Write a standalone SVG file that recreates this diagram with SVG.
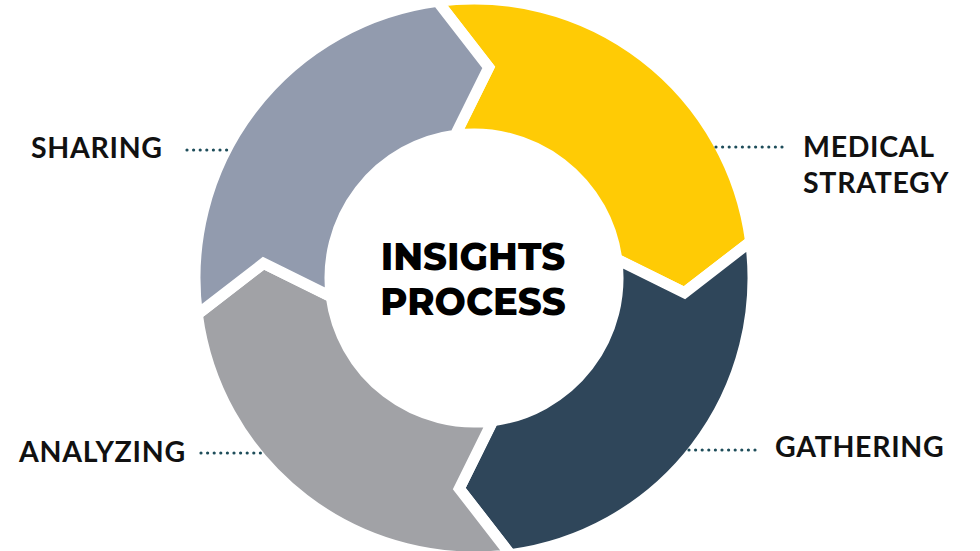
<svg xmlns="http://www.w3.org/2000/svg" width="980" height="551" viewBox="0 0 980 551">
<style>
.seg{stroke:#ffffff;stroke-width:11;stroke-linejoin:miter}
.lbl{font-family:Lato,"Liberation Sans",sans-serif;font-weight:700;font-size:28.5px;letter-spacing:0.7px;fill:#111111}
.ctr{font-family:Montserrat,Inter,"Liberation Sans",sans-serif;font-weight:800;font-size:37px;fill:#000000;text-anchor:middle}
.dot{stroke:#1e4d5a;stroke-width:3.2;stroke-linecap:round;stroke-dasharray:0 6.6;fill:none}
</style>
<rect width="980" height="551" fill="#ffffff"/>
<g id="medical-strategy">
<path class="seg" fill="#ffcb05" d="M437.58 1.39 A279 279 0 0 1 750.61 241.58 L684.49 292.72 L616.77 259.20 A144 144 0 0 0 455.20 135.23 L488.72 67.51 Z"/>
<text class="lbl" x="803" y="157">MEDICAL</text>
<text class="lbl" x="803" y="193">STRATEGY</text>
</g>
<g id="gathering">
<path class="seg" fill="#2f465a" d="M750.61 241.58 A279 279 0 0 1 510.42 554.61 L459.28 488.49 L492.80 420.77 A144 144 0 0 0 616.77 259.20 L684.49 292.72 Z"/>
<text class="lbl" x="775" y="457">GATHERING</text>
</g>
<g id="analyzing">
<path class="seg" fill="#a1a2a6" d="M510.42 554.61 A279 279 0 0 1 197.39 314.42 L263.51 263.28 L331.23 296.80 A144 144 0 0 0 492.80 420.77 L459.28 488.49 Z"/>
<text class="lbl" x="19" y="462">ANALYZING</text>
</g>
<g id="sharing">
<path class="seg" fill="#929bae" d="M197.39 314.42 A279 279 0 0 1 437.58 1.39 L488.72 67.51 L455.20 135.23 A144 144 0 0 0 331.23 296.80 L263.51 263.28 Z"/>
<text class="lbl" x="31" y="158">SHARING</text>
</g>
<g id="insights-process">
<text class="ctr" x="473" y="270">INSIGHTS</text>
<text class="ctr" x="473" y="315">PROCESS</text>
</g>
<g id="connectors">
<line class="dot" x1="187" y1="150" x2="230" y2="150"/>
<line class="dot" x1="716" y1="147" x2="782" y2="147"/>
<line class="dot" x1="201" y1="453" x2="261" y2="453"/>
<line class="dot" x1="689" y1="450" x2="758" y2="450"/>
</g>
</svg>
